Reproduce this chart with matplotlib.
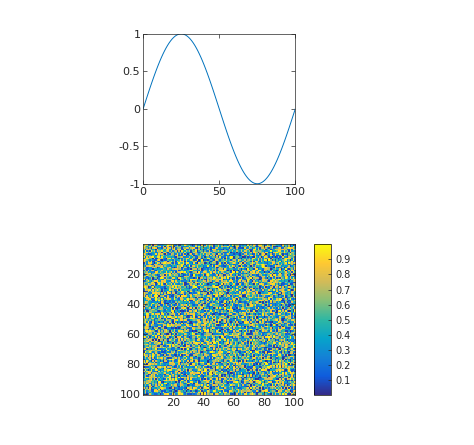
import numpy as np
import matplotlib
matplotlib.use("Agg")
import matplotlib.pyplot as plt
from matplotlib.colors import LinearSegmentedColormap

# Data
x_vals = np.arange(0, 101)
y_vals = np.sin(2 * np.pi * x_vals / 100)  # the plotted curve is sin over one period
# Noise image: its 10000 cells cannot be read individually from the picture, so a fixed-seed field stands in
img_vals = np.random.default_rng(7).random((100, 100))
top_xticks = [0, 50, 100]
top_yticks = [-1, -0.5, 0, 0.5, 1]
top_yticklabels = ["-1", "-0.5", "0", "0.5", "1"]
img_ticks = [20, 40, 60, 80, 100]
cb_ticks = [0.1, 0.2, 0.3, 0.4, 0.5, 0.6, 0.7, 0.8, 0.9]

parula = LinearSegmentedColormap.from_list("parula", [
    "#352a87", "#0f5cdd", "#1481d6", "#06a4ca", "#2eb7a4",
    "#87bf77", "#d1bb59", "#fec832", "#f9fb0e"])

fig = plt.figure(figsize=(4.74, 4.45), dpi=100)
plt.rcParams['font.size'] = 8

def style(ax):
    ax.tick_params(direction='in', length=3, width=0.5, colors='#262626',
                   top=True, right=True, labelsize=8, pad=2)
    for s in ax.spines.values():
        s.set_linewidth(0.5)
        s.set_color('#262626')

ax1 = fig.add_axes([0.302, 0.587, 0.321, 0.337])
ax1.plot(x_vals, y_vals, color='#0072bd', lw=0.7)
ax1.set_xlim(0, 100)
ax1.set_ylim(-1, 1)
ax1.set_xticks(top_xticks)
ax1.set_yticks(top_yticks)
ax1.set_yticklabels(top_yticklabels)
style(ax1)

ax2 = fig.add_axes([0.302, 0.112, 0.321, 0.339])
im = ax2.imshow(img_vals, cmap=parula, extent=(0.5, 100.5, 100.5, 0.5),
                aspect='auto', interpolation='nearest')
ax2.set_xticks(img_ticks)
ax2.set_yticks(img_ticks)
style(ax2)

cax = fig.add_axes([0.662, 0.112, 0.036, 0.339])
cb = fig.colorbar(im, cax=cax, ticks=cb_ticks)
cb.outline.set_linewidth(0.5)
cax.tick_params(direction='in', length=2, width=0.5, labelsize=7, colors='#262626')

fig.savefig("out.png", dpi=100)
